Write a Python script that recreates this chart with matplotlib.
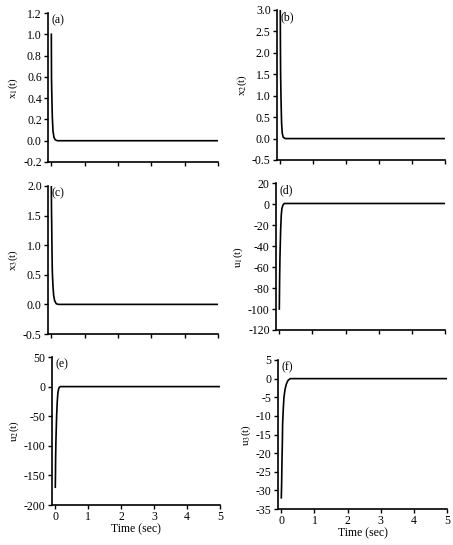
import numpy as np
import matplotlib
matplotlib.use("Agg")
import matplotlib.pyplot as plt

plt.rcParams['font.family'] = ['Liberation Serif', 'DejaVu Serif']
plt.rcParams['mathtext.fontset'] = 'stix'
plt.rcParams['axes.unicode_minus'] = False
plt.rcParams['font.size'] = 8.5

# time samples (sec) for each response
t_x1 = [0, 0.005, 0.01, 0.02, 0.03, 0.05, 0.08, 0.12, 0.18, 5]
x1 = [1.0, 0.6, 0.5, 0.35, 0.22, 0.09, 0.03, 0.008, 0.0, 0.0]

t_x2 = [0, 0.005, 0.01, 0.02, 0.03, 0.04, 0.06, 0.09, 0.15, 5]
x2 = [3.0, 2.0, 1.5, 1.0, 0.65, 0.35, 0.12, 0.03, 0.0, 0.0]

t_x3 = [0, 0.005, 0.01, 0.02, 0.03, 0.05, 0.07, 0.1, 0.15, 0.22, 5]
x3 = [2.0, 1.6, 1.4, 0.9, 0.55, 0.3, 0.15, 0.06, 0.01, 0.0, 0.0]

t_u1 = [0, 0.005, 0.01, 0.02, 0.04, 0.06, 0.08, 0.11, 0.15, 5]
u1 = [-100, -85, -70, -50, -25, -10, -4, -1, 0.5, 0.5]

t_u2 = [0, 0.005, 0.01, 0.02, 0.04, 0.06, 0.08, 0.11, 0.15, 5]
u2 = [-170, -150, -120, -90, -50, -25, -10, -2, 0, 0]

t_u3 = [0, 0.01, 0.02, 0.03, 0.04, 0.06, 0.08, 0.11, 0.15, 0.2, 0.27, 5]
u3 = [-32, -28, -22, -18, -12, -8, -5, -3, -1.5, -0.5, 0, 0]

series = [
    (t_x1, x1, r'x$_1$(t)', '(a)', (-0.2, 1.2), np.arange(-0.2, 1.21, 0.2), '%.1f'),
    (t_x2, x2, r'x$_2$(t)', '(b)', (-0.5, 3.0), np.arange(-0.5, 3.01, 0.5), '%.1f'),
    (t_x3, x3, r'x$_3$(t)', '(c)', (-0.5, 2.0), np.arange(-0.5, 2.01, 0.5), '%.1f'),
    (t_u1, u1, r'u$_1$(t)', '(d)', (-120, 20), np.arange(-120, 21, 20), '%d'),
    (t_u2, u2, r'u$_2$(t)', '(e)', (-200, 50), np.arange(-200, 51, 50), '%d'),
    (t_u3, u3, r'u$_3$(t)', '(f)', (-35, 5), np.arange(-35, 6, 5), '%d'),
]

fig = plt.figure(figsize=(4.53, 5.45), dpi=100)

# axes boxes in pixels (left, right, top, bottom)
boxes = [
    (48, 218, 13, 162), (277, 445, 10, 160),
    (48, 218, 186, 334), (276, 445, 183, 330),
    (52, 220, 357, 505), (278, 447, 360, 509),
]
W, H = 453.0, 545.0

for i, (t, y, ylab, tag, ylim, yt, fmt) in enumerate(series):
    l, r, tp, b = boxes[i]
    ax = fig.add_axes([l / W, 1 - b / H, (r - l) / W, (b - tp) / H])
    ax.plot(t, y, color='k', lw=1.2)
    ax.set_xlim(-0.1, 5)
    ax.set_ylim(*ylim)
    ax.set_yticks(yt)
    ax.set_yticklabels([fmt % v for v in yt])
    ax.set_xticks(range(6))
    for s in ['top', 'right']:
        ax.spines[s].set_visible(False)
    ax.spines['left'].set_linewidth(1.2)
    ax.spines['bottom'].set_linewidth(1.2)
    ax.tick_params(direction='out', length=3, width=1, pad=1.5, labelsize=8.5)
    ax.set_ylabel(ylab, fontsize=8, labelpad=2)
    ax.text(0.02, 0.99, tag, transform=ax.transAxes, ha='left', va='top', fontsize=8.5)
    if i >= 4:
        ax.set_xlabel('Time (sec)', fontsize=8.5, labelpad=0)
    else:
        ax.set_xticklabels([])

fig.savefig("out.png", dpi=100)
